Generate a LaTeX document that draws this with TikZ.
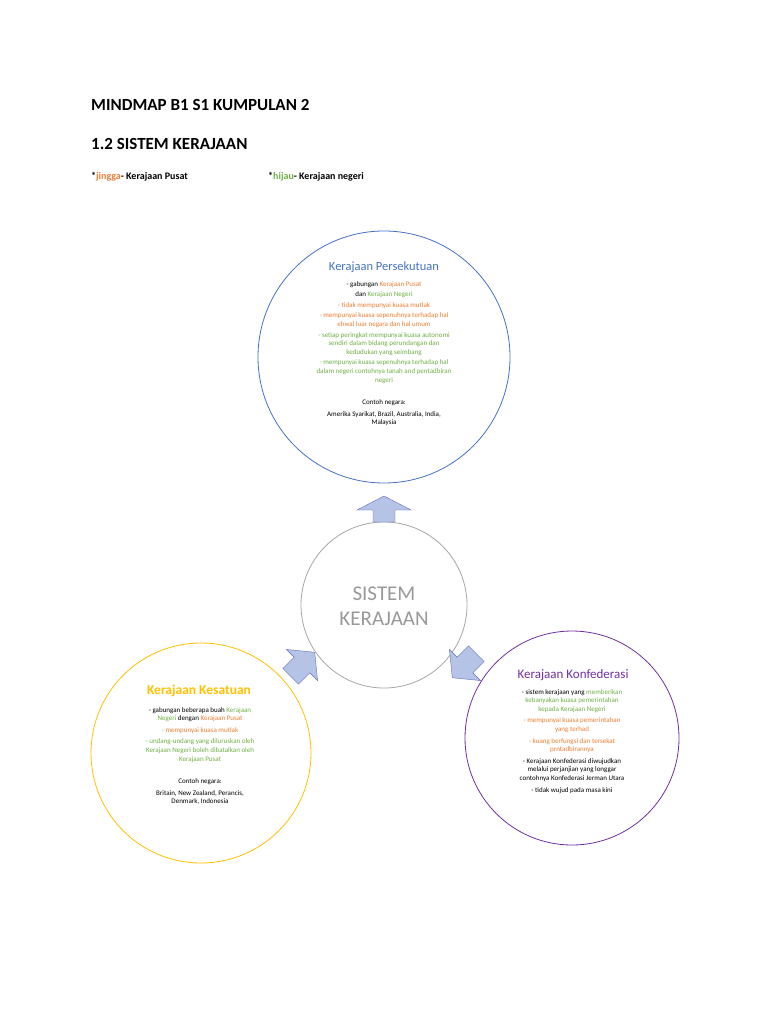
\documentclass[tikz,border=0pt]{standalone}
\usepackage{fontspec}
\setmainfont{Carlito}
\definecolor{org}{HTML}{ED7D31}
\definecolor{grn}{HTML}{70AD47}
\definecolor{blu}{HTML}{4472C4}
\definecolor{pur}{HTML}{7030A0}
\definecolor{gld}{HTML}{FFC000}
\definecolor{arw}{HTML}{B4C3E6}
\begin{document}
\begin{tikzpicture}[x=1pt,y=-1pt,
  body/.style={align=center,font=\fontsize{7}{8.6}\selectfont,inner sep=0},
  ttl/.style={font=\bfseries\fontsize{17}{20}\selectfont,anchor=west,inner sep=0},
  blockarrow/.style={fill=arw,draw=arw!70!blue!80!black,line width=0.4pt}]
\useasboundingbox (0,0) rectangle (768,1024);
\node[ttl] (t1) at (91,105) {MINDMAP B1 S1 KUMPULAN 2};
\node[ttl] (t2) at (91,144) {1.2 SISTEM KERAJAAN};
\node[anchor=west,inner sep=0,font=\bfseries\fontsize{10}{12}\selectfont] (leg1) at (91,177) {*\textcolor{org}{jingga}- Kerajaan Pusat};
\node[anchor=west,inner sep=0,font=\bfseries\fontsize{10}{12}\selectfont] (leg2) at (268,177) {*\textcolor{grn}{hijau}- Kerajaan negeri};

% circles
\node[circle,draw=blu,line width=0.8pt,minimum size=252] (top) at (384,357) {};
\node[circle,draw=gray!70,line width=0.8pt,minimum size=166] (mid) at (384,605) {};
\node[circle,draw=gld,line width=0.8pt,minimum size=220] (left) at (201,753) {};
\node[circle,draw=pur,line width=0.8pt,minimum size=214] (right) at (572,738) {};

\node[align=center,text=gray!80,font=\fontsize{21}{25}\selectfont,inner sep=0] (midt) at (384,606) {SISTEM\\KERAJAAN};

% top content
\node[text=blu,font=\fontsize{12.5}{15}\selectfont,inner sep=0] (topt) at (384,267) {Kerajaan Persekutuan};
\node[body,anchor=north] (topb) at (384,281) {%
- gabungan \textcolor{org}{Kerajaan Pusat}\\[2pt]
dan \textcolor{grn}{Kerajaan Negeri}\\[2pt]
\textcolor{org}{- tidak mempunyai kuasa mutlak}\\[2pt]
\textcolor{org}{- mempunyai kuasa sepenuhnya terhadap hal}\\
\textcolor{org}{ehwal luar negara dan hal umum}\\[2pt]
\textcolor{grn}{- setiap peringkat mempunyai kuasa autonomi}\\
\textcolor{grn}{sendiri dalam bidang perundangan dan}\\
\textcolor{grn}{kedudukan yang seimbang}\\[2pt]
\textcolor{grn}{- mempunyai kuasa sepenuhnya terhadap hal}\\
\textcolor{grn}{dalam negeri contohnya tanah and pentadbiran}\\
\textcolor{grn}{negeri}\\[14pt]
Contoh negara:\\[3pt]
Amerika Syarikat, Brazil, Australia, India,\\
Malaysia};

% left content
\node[text=gld,font=\bfseries\fontsize{13.5}{16}\selectfont,inner sep=0] (leftt) at (199,691) {Kerajaan Kesatuan};
\node[body,anchor=north] (leftb) at (200,707) {%
- gabungan beberapa buah \textcolor{grn}{Kerajaan}\\
\textcolor{grn}{Negeri} dengan \textcolor{org}{Kerajaan Pusat}\\[3pt]
\textcolor{org}{- mempunyai kuasa mutlak}\\[3pt]
\textcolor{grn}{- undang-undang yang diluruskan oleh}\\
\textcolor{grn}{Kerajaan Negeri boleh dibatalkan oleh}\\
\textcolor{grn}{Kerajaan Pusat}\\[14pt]
Contoh negara:\\[3pt]
Britain, New Zealand, Perancis,\\
Denmark, Indonesia};

% right content
\node[text=pur,font=\fontsize{13}{16}\selectfont,inner sep=0] (rightt) at (573,675) {Kerajaan Konfederasi};
\node[body,anchor=north] (rightb) at (572,689) {%
- sistem kerajaan yang \textcolor{grn}{memberikan}\\
\textcolor{grn}{kebanyakan kuasa pemerintahan}\\
\textcolor{grn}{kepada Kerajaan Negeri}\\[3pt]
\textcolor{org}{- mempunyai kuasa pemerintahan}\\
\textcolor{org}{yang terhad}\\[3pt]
\textcolor{org}{- kuang berfungsi dan tersekat}\\
\textcolor{org}{prntadbirannya}\\[3pt]
- Kerajaan Konfederasi diwujudkan\\
melalui perjanjian yang longgar\\
contohnya Konfederasi Jerman Utara\\[3pt]
- tidak wujud pada masa kini};

% block arrows
\begin{scope}[shift={(384,510)}]
\filldraw[blockarrow] (-11,12) -- (-11,0) -- (-27,0) -- (0,-14) -- (27,0) -- (11,0) -- (11,12) -- cycle;
\end{scope}
\begin{scope}[shift={(302,665)},rotate=-45]
\filldraw[blockarrow] (-11,16) -- (-11,0) -- (-22,0) -- (0,-18) -- (22,0) -- (11,0) -- (11,16) -- cycle;
\end{scope}
\begin{scope}[shift={(465,665)},rotate=135]
\filldraw[blockarrow] (-11,16) -- (-11,0) -- (-22,0) -- (0,-18) -- (22,0) -- (11,0) -- (11,16) -- cycle;
\end{scope}
\end{tikzpicture}
\end{document}
